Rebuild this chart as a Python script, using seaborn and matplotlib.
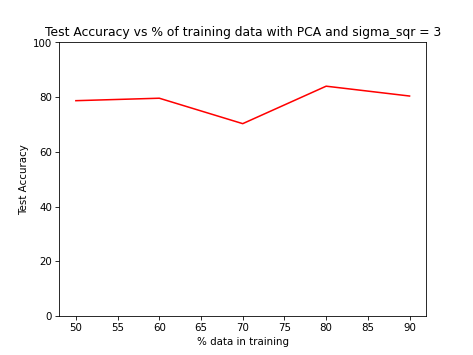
import matplotlib
matplotlib.use("Agg")
import matplotlib.pyplot as plt
import seaborn as sns
import pandas as pd

train_pct = [50, 60, 70, 80, 90]
test_accuracy = [78.7, 79.6, 70.3, 84.0, 80.4]

df = pd.DataFrame({"pct": train_pct, "acc": test_accuracy})

fig, ax = plt.subplots(figsize=(6.4, 4.8), dpi=74)
sns.lineplot(data=df, x="pct", y="acc", color="red", ax=ax)
ax.set_ylim(0, 100)
ax.set_xlabel("% data in training")
ax.set_ylabel("Test Accuracy")
ax.set_title("Test Accuracy vs % of training data with PCA and sigma_sqr = 3")
fig.savefig("out.png", dpi=74)
